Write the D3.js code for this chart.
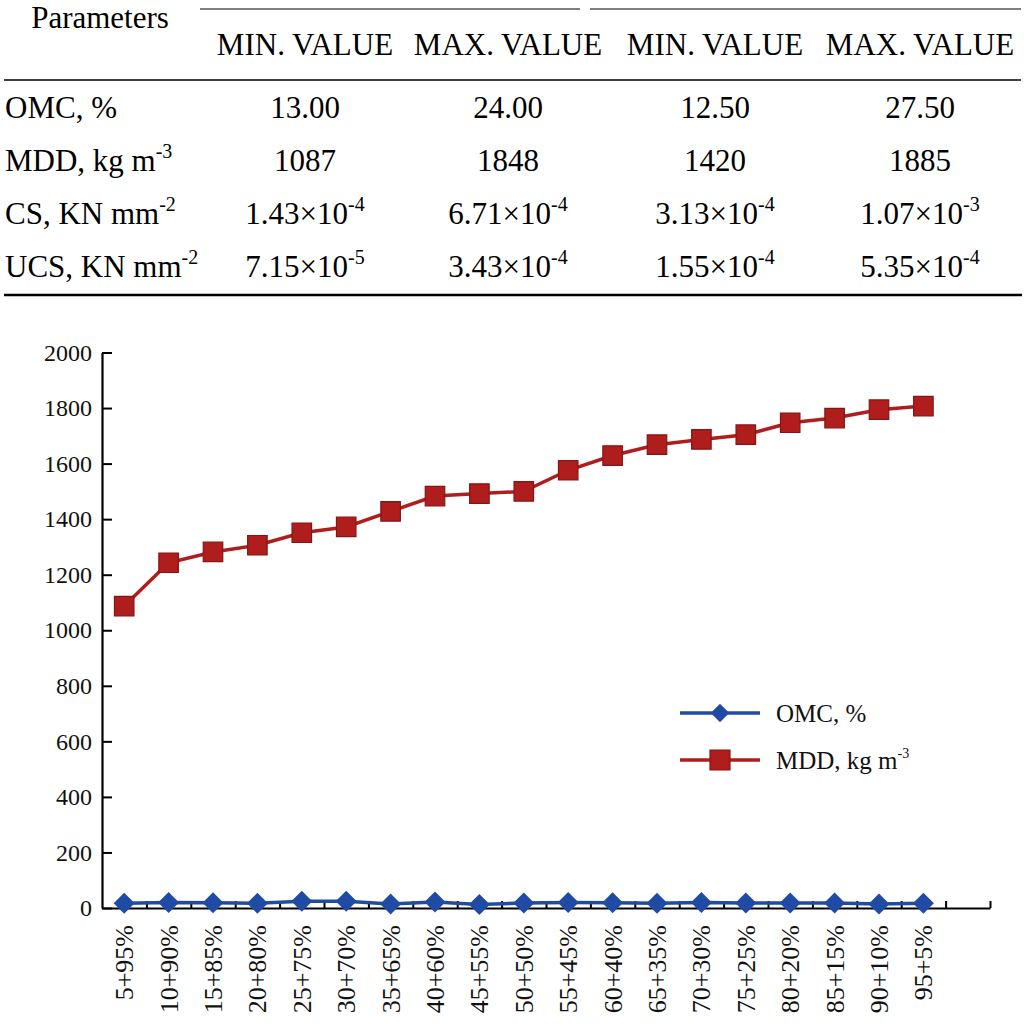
<!DOCTYPE html>
<html>
<head>
<meta charset="utf-8">
<script src="https://cdn.jsdelivr.net/npm/d3@7/dist/d3.min.js"></script>
<style>
  html, body { margin: 0; padding: 0; background: #fff; }
  svg { display: block; font-family: "Liberation Serif", "Times New Roman", serif; }
</style>
</head>
<body>
<svg width="1033" height="1033"></svg>
<script>
const WIDTH = 1033;
const HEIGHT = 1033;

// table on top
const tableHeaders = ["MIN. VALUE", "MAX. VALUE", "MIN. VALUE", "MAX. VALUE"];
const rowLabels = ["OMC, %", "MDD, kg m", "CS, KN mm", "UCS, KN mm"];
const rowLabelSups = ["", "-3", "-2", "-2"];
const omcRow = ["13.00", "24.00", "12.50", "27.50"];
const mddRow = ["1087", "1848", "1420", "1885"];
const csMant = ["1.43", "6.71", "3.13", "1.07"];
const csExp = ["-4", "-4", "-4", "-3"];
const ucsMant = ["7.15", "3.43", "1.55", "5.35"];
const ucsExp = ["-5", "-4", "-4", "-4"];

// chart
const categories = ["5+95%", "10+90%", "15+85%", "20+80%", "25+75%", "30+70%", "35+65%",
  "40+60%", "45+55%", "50+50%", "55+45%", "60+40%", "65+35%", "70+30%", "75+25%",
  "80+20%", "85+15%", "90+10%", "95+5%"];
const omcValues = [17, 20, 19, 17, 24, 24, 14, 22, 13, 18, 20, 19, 17, 20, 18, 18, 18, 14, 17];
const mddValues = [1087, 1243, 1282, 1306, 1351, 1372, 1428, 1483, 1492, 1500, 1576, 1629,
  1668, 1687, 1704, 1747, 1764, 1794, 1807];
const yTicks = [0, 200, 400, 600, 800, 1000, 1200, 1400, 1600, 1800, 2000];

const BLUE = "#1f4ba5";
const RED = "#b01d1d";
const RED_DARK = "#861414";
const SERIF = "'Liberation Serif', 'Times New Roman', serif";

const svg = d3.select("svg").attr("width", WIDTH).attr("height", HEIGHT);

// ---------- table ----------
const colX = [305, 508, 715, 920];
const rowY = [118, 171, 224, 277];
const tbl = svg.append("g").attr("font-size", 31).attr("fill", "#000");

tbl.append("text").attr("x", 100).attr("y", 28).attr("text-anchor", "middle").text("Parameters");
tbl.append("line").attr("x1", 200).attr("x2", 580).attr("y1", 9).attr("y2", 9).attr("stroke", "#000").attr("stroke-width", 1.2);
tbl.append("line").attr("x1", 590).attr("x2", 1021).attr("y1", 9).attr("y2", 9).attr("stroke", "#000").attr("stroke-width", 1.2);
tbl.append("line").attr("x1", 4).attr("x2", 1021).attr("y1", 80).attr("y2", 80).attr("stroke", "#000").attr("stroke-width", 1.5);
tbl.append("line").attr("x1", 4).attr("x2", 1022).attr("y1", 295).attr("y2", 295).attr("stroke", "#000").attr("stroke-width", 2.5);

tbl.selectAll("text.hdr")
  .data(tableHeaders)
  .enter()
  .append("text")
  .attr("class", "hdr")
  .attr("x", (_, i) => colX[i])
  .attr("y", 55)
  .attr("text-anchor", "middle")
  .text(d => d);

rowLabels.forEach((lab, r) => {
  const t = tbl.append("text").attr("x", 5).attr("y", rowY[r]);
  t.append("tspan").text(lab);
  if (rowLabelSups[r]) {
    t.append("tspan").attr("dy", -13).attr("font-size", 20).text(rowLabelSups[r]);
  }
});

function plainCells(values, r) {
  values.forEach((v, i) => {
    tbl.append("text").attr("x", colX[i]).attr("y", rowY[r]).attr("text-anchor", "middle").text(v);
  });
}
function sciCells(mant, exps, r) {
  mant.forEach((m, i) => {
    const t = tbl.append("text").attr("x", colX[i]).attr("y", rowY[r]).attr("text-anchor", "middle");
    t.append("tspan").text(m + "\u00d710");
    t.append("tspan").attr("dy", -13).attr("font-size", 20).text(exps[i]);
  });
}
plainCells(omcRow, 0);
plainCells(mddRow, 1);
sciCells(csMant, csExp, 2);
sciCells(ucsMant, ucsExp, 3);

// ---------- chart ----------
const X0 = 102, X1 = 990, Y0 = 908, Y1 = 352.5;

const xScale = d3.scaleLinear()
  .domain([0, categories.length + 1])
  .range([X0, X1]);
const yScale = d3.scaleLinear()
  .domain([0, 2000])
  .range([Y0, Y1]);
const xPos = i => xScale(i + 0.5);

const gx = svg.append("g")
  .attr("transform", `translate(0,${Y0})`)
  .call(d3.axisBottom(xScale)
    .tickValues(d3.range(1, categories.length + 2))
    .tickSize(-7)
    .tickSizeOuter(0)
    .tickFormat(""));
gx.select(".domain").attr("stroke-width", 2.2);
gx.selectAll(".tick line").attr("stroke-width", 2);

const gy = svg.append("g")
  .attr("transform", `translate(${X0},0)`)
  .call(d3.axisLeft(yScale)
    .tickValues(yTicks)
    .tickFormat(d3.format("d"))
    .tickSize(-10)
    .tickSizeOuter(0)
    .tickPadding(10));
gy.attr("font-family", null).attr("font-size", null);
gy.select(".domain").attr("stroke-width", 2.2);
gy.selectAll(".tick line").attr("stroke-width", 2);
gy.selectAll(".tick text")
  .style("font-family", SERIF)
  .style("font-size", "24px")
  .attr("fill", "#111");

// rotated category labels
svg.append("g")
  .selectAll("text")
  .data(categories)
  .enter()
  .append("text")
  .attr("transform", (_, i) => `translate(${xPos(i) + 9},925) rotate(-90)`)
  .attr("text-anchor", "end")
  .style("font-family", SERIF)
  .style("font-size", "26px")
  .attr("fill", "#111")
  .text(d => d);

const line = d3.line().x((_, i) => xPos(i)).y(d => yScale(d));

// MDD series
svg.append("path")
  .datum(mddValues)
  .attr("d", line)
  .attr("fill", "none")
  .attr("stroke", RED)
  .attr("stroke-width", 3.5);
svg.append("g")
  .selectAll("path")
  .data(mddValues)
  .enter()
  .append("path")
  .attr("d", d3.symbol(d3.symbolSquare, 380))
  .attr("transform", (d, i) => `translate(${xPos(i)},${yScale(d)})`)
  .attr("fill", RED)
  .attr("stroke", RED_DARK)
  .attr("stroke-width", 1.2);

// OMC series
svg.append("path")
  .datum(omcValues)
  .attr("d", line)
  .attr("fill", "none")
  .attr("stroke", BLUE)
  .attr("stroke-width", 3.5);
svg.append("g")
  .selectAll("path")
  .data(omcValues)
  .enter()
  .append("path")
  .attr("d", d3.symbol(d3.symbolSquare, 220))
  .attr("transform", (d, i) => `translate(${xPos(i)},${yScale(d)}) rotate(45)`)
  .attr("fill", BLUE);

// legend
const legend = svg.append("g").style("font-family", SERIF).style("font-size", "25px").attr("fill", "#111");
legend.append("line").attr("x1", 680).attr("x2", 760).attr("y1", 713).attr("y2", 713)
  .attr("stroke", BLUE).attr("stroke-width", 3.5);
legend.append("path").attr("d", d3.symbol(d3.symbolSquare, 170))
  .attr("transform", "translate(720,713) rotate(45)").attr("fill", BLUE);
legend.append("text").attr("x", 776).attr("y", 722).text("OMC, %");

legend.append("line").attr("x1", 680).attr("x2", 760).attr("y1", 760).attr("y2", 760)
  .attr("stroke", RED).attr("stroke-width", 3.5);
legend.append("path").attr("d", d3.symbol(d3.symbolSquare, 400))
  .attr("transform", "translate(720,760)").attr("fill", RED).attr("stroke", RED_DARK).attr("stroke-width", 1.2);
const mddLeg = legend.append("text").attr("x", 776).attr("y", 769);
mddLeg.append("tspan").text("MDD, kg m");
mddLeg.append("tspan").attr("dy", -11).style("font-size", "14px").text("-3");
</script>
</body>
</html>
